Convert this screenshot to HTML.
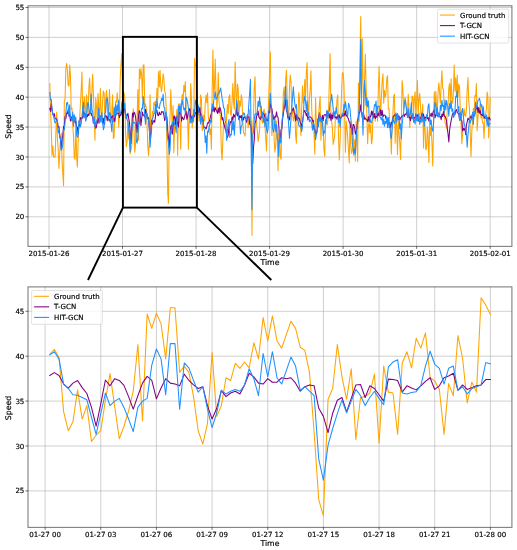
<!DOCTYPE html>
<html><head><meta charset="utf-8"><style>html,body{margin:0;padding:0;background:#fff;}svg{display:block;}#w{width:517px;height:550px;overflow:hidden;}</style></head><body><div id="w">
<svg width="517" height="550" viewBox="0 0 517 550" font-family='"DejaVu Sans", "Liberation Sans", sans-serif' fill="#000"><style>text{stroke:#000;stroke-width:0.16px;}</style>
<rect width="517" height="550" fill="#fff"/>
<defs>
<clipPath id="c1"><rect x="28" y="5.8" width="483.9" height="240.6"/></clipPath>
<clipPath id="c2"><rect x="28" y="286.9" width="483.9" height="240.5"/></clipPath>
</defs>
<g clip-path="url(#c1)">
<line x1="49" y1="5.8" x2="49" y2="246.4" stroke="#b0b0b0" stroke-width="0.6"/>
<line x1="122.53" y1="5.8" x2="122.53" y2="246.4" stroke="#b0b0b0" stroke-width="0.6"/>
<line x1="196.06" y1="5.8" x2="196.06" y2="246.4" stroke="#b0b0b0" stroke-width="0.6"/>
<line x1="269.59" y1="5.8" x2="269.59" y2="246.4" stroke="#b0b0b0" stroke-width="0.6"/>
<line x1="343.12" y1="5.8" x2="343.12" y2="246.4" stroke="#b0b0b0" stroke-width="0.6"/>
<line x1="416.65" y1="5.8" x2="416.65" y2="246.4" stroke="#b0b0b0" stroke-width="0.6"/>
<line x1="490.18" y1="5.8" x2="490.18" y2="246.4" stroke="#b0b0b0" stroke-width="0.6"/>
<line x1="28" y1="216.8" x2="511.9" y2="216.8" stroke="#b0b0b0" stroke-width="0.6"/>
<line x1="28" y1="186.9" x2="511.9" y2="186.9" stroke="#b0b0b0" stroke-width="0.6"/>
<line x1="28" y1="157" x2="511.9" y2="157" stroke="#b0b0b0" stroke-width="0.6"/>
<line x1="28" y1="127.1" x2="511.9" y2="127.1" stroke="#b0b0b0" stroke-width="0.6"/>
<line x1="28" y1="97.2" x2="511.9" y2="97.2" stroke="#b0b0b0" stroke-width="0.6"/>
<line x1="28" y1="67.3" x2="511.9" y2="67.3" stroke="#b0b0b0" stroke-width="0.6"/>
<line x1="28" y1="37.4" x2="511.9" y2="37.4" stroke="#b0b0b0" stroke-width="0.6"/>
<line x1="28" y1="7.5" x2="511.9" y2="7.5" stroke="#b0b0b0" stroke-width="0.6"/>
<path d="M49.77,83.45 L50.53,108.6 L51.3,130.06 L52.06,155.5 L52.83,145.73 L53.6,157.07 L54.36,156.44 L55.13,157 L55.89,132.48 L56.66,112.15 L57.43,138.43 L58.19,149.34 L58.96,168.36 L59.72,153.49 L60.49,137.83 L61.25,133.08 L62.02,160.33 L62.79,172.87 L63.55,185.7 L64.32,101.39 L65.08,98.52 L65.85,68.66 L66.62,63.41 L67.38,69.7 L68.15,85.24 L68.91,86.03 L69.68,64.91 L70.45,75.5 L71.21,109.16 L71.98,108.09 L72.74,125.57 L73.51,136.53 L74.28,157.54 L75.04,159.39 L75.81,121.12 L76.57,155.74 L77.34,167.17 L78.11,143.46 L78.87,121.12 L79.64,119.4 L80.4,104.01 L81.17,90.52 L81.94,72.08 L82.7,115.14 L83.47,117.11 L84.23,96.6 L85,106.73 L85.77,115.14 L86.53,94.81 L87.3,106.4 L88.06,115.14 L88.83,88.41 L89.59,78.06 L90.36,96.14 L91.13,115.14 L91.89,91.3 L92.66,74.18 L93.42,94.66 L94.19,115.14 L94.96,140.26 L95.72,97.8 L96.49,105.57 L97.25,121.12 L98.02,93.61 L98.79,108.39 L99.55,121.12 L100.32,88.23 L101.08,109.98 L101.85,121.12 L102.62,100.05 L103.38,90.92 L104.15,93.61 L104.91,124.11 L105.68,99.23 L106.45,90.62 L107.21,100.9 L107.98,121.12 L108.74,109.69 L109.51,89.43 L110.28,111.74 L111.04,121.12 L111.81,113.01 L112.57,94.81 L113.34,138.46 L114.1,137.08 L114.87,115.14 L115.64,101.3 L116.4,102.57 L117.17,92.72 L117.93,101.62 L118.7,127.1 L119.47,111.43 L120.23,79.37 L121,63.63 L121.76,53.55 L122.53,86.72 L123.3,96 L124.06,92.72 L124.83,98.1 L125.59,134.28 L126.36,146.83 L127.13,140.85 L127.89,119.62 L128.66,139.06 L129.42,130.09 L130.19,154.01 L130.96,149.82 L131.72,146.83 L132.49,126.5 L133.25,108.8 L134.02,130.69 L134.79,152.22 L135.55,143.84 L136.32,133.68 L137.08,120.52 L137.85,89.43 L138.61,140.26 L139.38,69.09 L140.15,78.66 L140.91,68.5 L141.68,75.67 L142.44,98.99 L143.21,64.91 L143.98,64.91 L144.74,107.96 L145.51,103.78 L146.27,107.96 L147.04,124.11 L147.81,146.83 L148.57,155.8 L149.34,142.05 L150.1,94.81 L150.87,137.27 L151.64,130.09 L152.4,111.55 L153.17,113.35 L153.93,101.98 L154.7,105.27 L155.47,101.09 L156.23,104.97 L157,88.23 L157.76,98.99 L158.53,71.49 L159.3,87.03 L160.06,70.29 L160.83,87.03 L161.59,91.82 L162.36,82.85 L163.12,73.88 L163.89,78.66 L164.66,91.22 L165.42,93.31 L166.19,107.96 L166.95,148.03 L167.72,192.88 L168.49,203.29 L169.25,125.9 L170.02,118.73 L170.78,89.43 L171.55,110.95 L172.32,125.9 L173.08,105.57 L173.85,152.81 L174.61,124.71 L175.38,124.11 L176.15,121.72 L176.91,109.16 L177.68,155.21 L178.44,103.78 L179.21,121.12 L179.98,121.72 L180.74,149.23 L181.51,101.69 L182.27,94.21 L183.04,104.97 L183.81,85.24 L184.57,91.82 L185.34,81.65 L186.1,111.55 L186.87,113.65 L187.63,119.33 L188.4,149.23 L189.17,115.44 L189.93,123.51 L190.7,83.45 L191.46,98.4 L192.23,128.3 L193,114.54 L193.76,121.12 L194.53,58.33 L195.29,63.11 L196.06,69.39 L196.83,99.21 L197.59,115.14 L198.36,108.32 L199.12,121.12 L199.89,114.46 L200.66,94.88 L201.42,98.99 L202.19,130.69 L202.95,125.37 L203.72,115.14 L204.49,120.87 L205.25,103.07 L206.02,95.02 L206.78,102.71 L207.55,92.72 L208.31,116.79 L209.08,121.12 L209.85,134.49 L210.61,128.76 L211.38,149.23 L212.14,93.42 L212.91,49.96 L213.68,97.2 L214.44,87.2 L215.21,58.93 L215.97,90.11 L216.74,109.16 L217.51,100.46 L218.27,72.68 L219.04,101.45 L219.8,109.16 L220.57,119 L221.34,150.76 L222.1,159.99 L222.87,139.14 L223.63,121.12 L224.4,125.37 L225.17,127.1 L225.93,128.52 L226.7,115.14 L227.46,104.51 L228.23,113.8 L229,96.45 L229.76,94.81 L230.53,114.15 L231.29,115.14 L232.06,101.19 L232.82,83.45 L233.59,103.17 L234.36,109.16 L235.12,61.92 L235.89,91.05 L236.65,109.16 L237.42,84.04 L238.19,88.33 L238.95,115.14 L239.72,101.11 L240.48,106.27 L241.25,94.81 L242.02,98.76 L242.78,121.12 L243.55,133.02 L244.31,133.62 L245.08,136.07 L245.85,120.62 L246.61,118.72 L247.38,115.14 L248.14,127.69 L248.91,121.12 L249.68,109.42 L250.44,127.98 L251.21,121.12 L251.97,235.34 L252.74,127.1 L253.51,116.14 L254.27,87.09 L255.04,76.87 L255.8,115.14 L256.57,124.61 L257.34,130.78 L258.1,141.49 L258.87,136.67 L259.63,129.43 L260.4,102.58 L261.16,109.87 L261.93,121.12 L262.7,123.28 L263.46,110.72 L264.23,109.16 L264.99,126.18 L265.76,138.19 L266.53,151.02 L267.29,122.1 L268.06,115.14 L268.82,94.5 L269.59,71.3 L270.36,52.05 L271.12,109.16 L271.89,135.47 L272.65,116.54 L273.42,115.14 L274.19,141.26 L274.95,152.22 L275.72,144.94 L276.48,121.12 L277.25,136.17 L278.02,170.75 L278.78,133.08 L279.55,134.25 L280.31,156.61 L281.08,159.39 L281.85,121.12 L282.61,117.18 L283.38,92.67 L284.14,87.03 L284.91,109.16 L285.67,79.19 L286.44,70.29 L287.21,97.2 L287.97,116.42 L288.74,121.12 L289.5,87.33 L290.27,75.07 L291.04,82.98 L291.8,109.16 L292.57,112.66 L293.33,121.12 L294.1,117.02 L294.87,109.16 L295.63,135.68 L296.4,143.25 L297.16,115.14 L297.93,120.39 L298.7,92.51 L299.46,97.8 L300.23,122.89 L300.99,135.47 L301.76,105.76 L302.53,85.84 L303.29,103.18 L304.06,97.18 L304.82,79.56 L305.59,97.2 L306.36,72.11 L307.12,62.52 L307.89,103.18 L308.65,115.14 L309.42,98.08 L310.18,90.58 L310.95,70.89 L311.72,109.16 L312.48,122.9 L313.25,121.12 L314.01,132.29 L314.78,154.01 L315.55,97.8 L316.31,122.76 L317.08,127.1 L317.84,127.62 L318.61,115.14 L319.38,104.45 L320.14,96.6 L320.91,140.26 L321.67,122.26 L322.44,121.12 L323.21,130.15 L323.97,149.9 L324.74,156.4 L325.5,125.79 L326.27,115.14 L327.04,125.21 L327.8,121.12 L328.57,110.16 L329.33,81.59 L330.1,53.55 L330.87,109.16 L331.63,121.12 L332.4,128.8 L333.16,144.39 L333.93,140.26 L334.69,135.44 L335.46,115.14 L336.23,111.5 L336.99,99.86 L337.76,94.81 L338.52,136.21 L339.29,159.99 L340.06,140.86 L340.82,115.14 L341.59,91.82 L342.35,72.9 L343.12,72.68 L343.89,82.42 L344.65,115.14 L345.42,152.22 L346.18,121.12 L346.95,127.83 L347.72,137.48 L348.48,150.5 L349.25,162.98 L350.01,121.12 L350.78,145.87 L351.55,153.41 L352.31,151.38 L353.08,127.1 L353.84,149.89 L354.61,139.81 L355.38,160.89 L356.14,121.12 L356.91,136.64 L357.67,161.78 L358.44,82.85 L359.2,121.12 L359.97,57.73 L360.74,16.47 L361.5,97.2 L362.27,38.6 L363.03,85.33 L363.8,109.16 L364.57,78.39 L365.33,54.14 L366.1,85.07 L366.86,115.14 L367.63,143.84 L368.4,126.97 L369.16,121.12 L369.93,133.03 L370.69,124.32 L371.46,143.84 L372.23,139.65 L372.99,115.14 L373.76,116.03 L374.52,113.46 L375.29,121.12 L376.06,105.57 L376.82,109.16 L377.59,121.12 L378.35,88.09 L379.12,66.4 L379.88,97.2 L380.65,115.14 L381.42,96.51 L382.18,80.62 L382.95,73.88 L383.71,103.18 L384.48,90.26 L385.25,97.2 L386.01,93.57 L386.78,78.42 L387.54,75.67 L388.31,109.16 L389.08,108.54 L389.84,127.1 L390.61,131.68 L391.37,154.01 L392.14,121.12 L392.91,114.13 L393.67,96.23 L394.44,94.21 L395.2,143.25 L395.97,115.14 L396.74,126.18 L397.5,154.61 L398.27,121.12 L399.03,132.14 L399.8,143.65 L400.57,159.39 L401.33,122.74 L402.1,80.46 L402.86,88.83 L403.63,109.16 L404.39,101.2 L405.16,97.2 L405.93,103.57 L406.69,115.14 L407.46,114.72 L408.22,94.21 L408.99,107.62 L409.76,127.7 L410.52,109.62 L411.29,115.14 L412.05,96 L412.82,96.49 L413.59,115.14 L414.35,98.02 L415.12,91.82 L415.88,115.14 L416.65,100.47 L417.42,80.46 L418.18,115.14 L418.95,98.75 L419.71,93.61 L420.48,105.43 L421.25,121.12 L422.01,114.17 L422.78,104.38 L423.54,148.03 L424.31,121.12 L425.08,127.38 L425.84,149.82 L426.61,148.42 L427.37,127.1 L428.14,138.76 L428.91,162.38 L429.67,121.12 L430.44,135.36 L431.2,127.1 L431.97,144.11 L432.73,165.97 L433.5,129.35 L434.27,91.82 L435.03,115.14 L435.8,91.22 L436.56,106.64 L437.33,109.16 L438.1,91.26 L438.86,82.85 L439.63,93.08 L440.39,103.18 L441.16,84.3 L441.93,70.89 L442.69,88.83 L443.46,88.94 L444.22,109.16 L444.99,122.48 L445.76,124.11 L446.52,128.32 L447.29,109.16 L448.05,105.35 L448.82,87.76 L449.59,83.45 L450.35,103.18 L451.12,78.66 L451.88,98.04 L452.65,103.18 L453.42,91.95 L454.18,64.91 L454.95,91.22 L455.71,78.06 L456.48,97.2 L457.24,75.07 L458.01,97.2 L458.78,84.04 L459.54,86.9 L460.31,109.16 L461.07,122.68 L461.84,143.84 L462.61,133.87 L463.37,121.12 L464.14,108.76 L464.9,115.14 L465.67,116.29 L466.44,109.16 L467.2,89.34 L467.97,77.47 L468.73,100.52 L469.5,109.16 L470.27,134.43 L471.03,156.4 L471.8,131.44 L472.56,121.12 L473.33,108.22 L474.1,115.14 L474.86,95.48 L475.63,96.78 L476.39,83.45 L477.16,130.69 L477.93,117.94 L478.69,109.16 L479.46,110.56 L480.22,103.18 L480.99,117.86 L481.75,115.14 L482.52,123 L483.29,122.62 L484.05,138.46 L484.82,120.35 L485.58,113.88 L486.35,109.16 L487.12,92.12 L487.88,96.6 L488.65,137.86 L489.41,123.17 L490.18,97.8" fill="none" stroke="#ffa500" stroke-width="1.059" stroke-linejoin="round" stroke-linecap="square"/>
<path d="M49.77,108.39 L50.53,111.41 L51.3,103.66 L52.06,109.81 L52.83,113.73 L53.6,116.16 L54.36,113.74 L55.13,118.77 L55.89,118.97 L56.66,118.69 L57.43,121.54 L58.19,127.2 L58.96,126.64 L59.72,136.28 L60.49,138.05 L61.25,149.15 L62.02,141.49 L62.79,134.73 L63.55,126.89 L64.32,125.34 L65.08,116.4 L65.85,118.77 L66.62,113.03 L67.38,113.61 L68.15,109.58 L68.91,116.17 L69.68,113.8 L70.45,121.07 L71.21,116.75 L71.98,120.1 L72.74,115.39 L73.51,120.61 L74.28,116.09 L75.04,122.74 L75.81,121 L76.57,126.74 L77.34,127.09 L78.11,134.4 L78.87,126.71 L79.64,125.07 L80.4,117.65 L81.17,119.11 L81.94,117.52 L82.7,118.18 L83.47,111.57 L84.23,113.03 L85,113.84 L85.77,119.92 L86.53,114.64 L87.3,116.79 L88.06,114.24 L88.83,115.49 L89.59,112.24 L90.36,113.49 L91.13,113.21 L91.89,115.74 L92.66,116.52 L93.42,123.02 L94.19,119.31 L94.96,124.21 L95.72,128.16 L96.49,126.87 L97.25,119.6 L98.02,123.12 L98.79,117.68 L99.55,119.66 L100.32,115.82 L101.08,116.86 L101.85,117.67 L102.62,123.48 L103.38,118.29 L104.15,124.37 L104.91,116.7 L105.68,115.95 L106.45,115.95 L107.21,120.59 L107.98,116.46 L108.74,119.99 L109.51,119.55 L110.28,122.17 L111.04,118.23 L111.81,116.88 L112.57,115.7 L113.34,120.1 L114.1,117.94 L114.87,121.75 L115.64,114.36 L116.4,114.79 L117.17,113.42 L117.93,112.85 L118.7,113.4 L119.47,117.75 L120.23,114.3 L121,115.27 L121.76,109.62 L122.53,114.52 L123.3,110.06 L124.06,108.14 L124.83,110.06 L125.59,115.74 L126.36,118.43 L127.13,115.14 L127.89,113.35 L128.66,118.13 L129.42,122.02 L130.19,131.29 L130.96,143.84 L131.72,128.89 L132.49,113.05 L133.25,116.93 L134.02,112.15 L134.79,113.35 L135.55,116.64 L136.32,124.11 L137.08,132.48 L137.85,123.51 L138.61,115.14 L139.38,110.66 L140.15,113.35 L140.91,125.61 L141.68,118.43 L142.44,112.15 L143.21,115.14 L143.98,115.74 L144.74,116.93 L145.51,109.16 L146.27,113.35 L147.04,116.34 L147.81,118.73 L148.57,117.53 L149.34,130.09 L150.1,139.06 L150.87,131.88 L151.64,119.92 L152.4,124.11 L153.17,121.72 L153.93,120.52 L154.7,122.32 L155.47,116.34 L156.23,108.56 L157,110.95 L157.76,115.14 L158.53,115.74 L159.3,112.15 L160.06,114.54 L160.83,114.54 L161.59,111.55 L162.36,112.15 L163.12,111.55 L163.89,115.14 L164.66,120.52 L165.42,117.53 L166.19,116.34 L166.95,116.93 L167.72,131.88 L168.49,137.27 L169.25,148.03 L170.02,135.17 L170.78,126.5 L171.55,124.71 L172.32,134.28 L173.08,125.31 L173.85,116.34 L174.61,116.04 L175.38,124.71 L176.15,116.93 L176.91,118.73 L177.68,122.91 L178.44,127.1 L179.21,112.45 L179.98,112.75 L180.74,113.35 L181.51,121.12 L182.27,116.93 L183.04,118.43 L183.81,119.62 L184.57,116.93 L185.34,113.94 L186.1,111.55 L186.87,119.33 L187.63,116.93 L188.4,111.55 L189.17,110.36 L189.93,108.56 L190.7,119.92 L191.46,116.34 L192.23,119.33 L193,118.13 L193.76,116.93 L194.53,116.34 L195.29,112.75 L196.06,112.75 L196.83,111.16 L197.59,112.41 L198.36,106.16 L199.12,112.48 L199.89,107.59 L200.66,116.25 L201.42,114.25 L202.19,118.35 L202.95,119.63 L203.72,127.06 L204.49,127.13 L205.25,127.57 L206.02,128.98 L206.78,126.73 L207.55,122.77 L208.31,123.09 L209.08,121.56 L209.85,119.61 L210.61,115.73 L211.38,113.4 L212.14,108.17 L212.91,111.19 L213.68,106.13 L214.44,111.88 L215.21,107.8 L215.97,109.87 L216.74,111.34 L217.51,113.43 L218.27,108 L219.04,113.03 L219.8,107.24 L220.57,109.56 L221.34,113.37 L222.1,119.86 L222.87,117.64 L223.63,122.99 L224.4,125.55 L225.17,128.91 L225.93,130.33 L226.7,135.62 L227.46,137.34 L228.23,135.07 L229,125.94 L229.76,125.33 L230.53,121.49 L231.29,122.67 L232.06,116.78 L232.82,120.44 L233.59,114.12 L234.36,117.06 L235.12,114.9 L235.89,114.68 L236.65,107.3 L237.42,115.98 L238.19,112.56 L238.95,119.68 L239.72,115.76 L240.48,117.58 L241.25,115.38 L242.02,120.99 L242.78,117.21 L243.55,119.92 L244.31,116.88 L245.08,117.4 L245.85,118.25 L246.61,122.29 L247.38,116.91 L248.14,116.5 L248.91,117.28 L249.68,124.27 L250.44,124.73 L251.21,127.88 L251.97,144.96 L252.74,163.63 L253.51,147.38 L254.27,139.8 L255.04,122.92 L255.8,121.32 L256.57,116.36 L257.34,114.5 L258.1,110.98 L258.87,117.19 L259.63,118.05 L260.4,119.35 L261.16,116.07 L261.93,117.54 L262.7,113.45 L263.46,113.7 L264.23,114.56 L264.99,117.36 L265.76,117.42 L266.53,120.33 L267.29,120.55 L268.06,119.51 L268.82,111.07 L269.59,112.62 L270.36,103.47 L271.12,106.72 L271.89,108.6 L272.65,114 L273.42,118.62 L274.19,119.36 L274.95,116.18 L275.72,117.31 L276.48,111.7 L277.25,116.48 L278.02,117.38 L278.78,125.75 L279.55,137.86 L280.31,138.12 L281.08,129.19 L281.85,128.81 L282.61,118.69 L283.38,113.58 L284.14,108.08 L284.91,106.02 L285.67,98.95 L286.44,109.71 L287.21,113.29 L287.97,118.29 L288.74,117 L289.5,119.85 L290.27,113.3 L291.04,113.46 L291.8,111.67 L292.57,109.56 L293.33,107.84 L294.1,112.91 L294.87,113.47 L295.63,121.07 L296.4,114.55 L297.16,120.03 L297.93,117.02 L298.7,118.4 L299.46,118.51 L300.23,122.45 L300.99,123.69 L301.76,128.91 L302.53,121.89 L303.29,116.22 L304.06,110.76 L304.82,110.55 L305.59,112.86 L306.36,115.91 L307.12,112.86 L307.89,119.97 L308.65,117.18 L309.42,116.73 L310.18,116.82 L310.95,117.74 L311.72,117.99 L312.48,121.02 L313.25,120.17 L314.01,129.04 L314.78,129.35 L315.55,133.42 L316.31,133.68 L317.08,130.03 L317.84,119.08 L318.61,118.59 L319.38,113.54 L320.14,117.47 L320.91,118.53 L321.67,120.09 L322.44,115.26 L323.21,120.68 L323.97,115.2 L324.74,114.64 L325.5,114.77 L326.27,116.21 L327.04,111.13 L327.8,114.46 L328.57,113.6 L329.33,118.05 L330.1,113.09 L330.87,120.36 L331.63,114.73 L332.4,118.98 L333.16,112.46 L333.93,115.84 L334.69,116.8 L335.46,117.78 L336.23,116.73 L336.99,119.28 L337.76,115.01 L338.52,118.28 L339.29,114.8 L340.06,118.74 L340.82,118.18 L341.59,116.92 L342.35,115.4 L343.12,116.2 L343.89,113.47 L344.65,115.38 L345.42,110.83 L346.18,116.17 L346.95,115.34 L347.72,117.47 L348.48,119.01 L349.25,122.01 L350.01,122.58 L350.78,128.01 L351.55,126.76 L352.31,134.59 L353.08,124.49 L353.84,124.57 L354.61,127.86 L355.38,134.03 L356.14,131.75 L356.91,127.87 L357.67,119.55 L358.44,117.67 L359.2,112.21 L359.97,112.16 L360.74,104.81 L361.5,111.73 L362.27,117.53 L363.03,119.65 L363.8,114.59 L364.57,119.16 L365.33,118.06 L366.1,119.75 L366.86,119.81 L367.63,121.4 L368.4,116.49 L369.16,121.55 L369.93,116.15 L370.69,116.92 L371.46,111.05 L372.23,115.23 L372.99,111.1 L373.76,117.99 L374.52,113.44 L375.29,118.52 L376.06,116.34 L376.82,117.12 L377.59,113.36 L378.35,115.66 L379.12,111.72 L379.88,115.85 L380.65,109.73 L381.42,115.5 L382.18,110.38 L382.95,117.08 L383.71,114.96 L384.48,115.14 L385.25,115.55 L386.01,119.02 L386.78,119.07 L387.54,119.18 L388.31,118.91 L389.08,123.71 L389.84,122.83 L390.61,127.62 L391.37,123.02 L392.14,121.77 L392.91,118.42 L393.67,116.1 L394.44,115 L395.2,114.77 L395.97,114.52 L396.74,119.21 L397.5,113.67 L398.27,119.88 L399.03,115.96 L399.8,119.98 L400.57,117.83 L401.33,117.23 L402.1,116.09 L402.86,115.91 L403.63,113.87 L404.39,116.41 L405.16,114.08 L405.93,114.66 L406.69,112.37 L407.46,113.32 L408.22,112.19 L408.99,117.64 L409.76,117.27 L410.52,120.79 L411.29,115.88 L412.05,117.96 L412.82,115.06 L413.59,121.33 L414.35,117.5 L415.12,117.47 L415.88,114.12 L416.65,120.08 L417.42,114.75 L418.18,121.39 L418.95,118.65 L419.71,118.12 L420.48,118.28 L421.25,116.44 L422.01,113.24 L422.78,118.48 L423.54,114.14 L424.31,119.47 L425.08,117.02 L425.84,118.01 L426.61,116.59 L427.37,118.81 L428.14,117.61 L428.91,121.19 L429.67,115.66 L430.44,115.83 L431.2,113.16 L431.97,116.83 L432.73,113.4 L433.5,110.91 L434.27,110.18 L435.03,117.96 L435.8,114.68 L436.56,114.97 L437.33,115.95 L438.1,116.12 L438.86,112.83 L439.63,116.87 L440.39,116.39 L441.16,119.75 L441.93,114.05 L442.69,116.47 L443.46,111.15 L444.22,116.19 L444.99,116.18 L445.76,118.23 L446.52,120.4 L447.29,128.11 L448.05,133.95 L448.82,141.98 L449.59,130.42 L450.35,124.71 L451.12,120.91 L451.88,116.85 L452.65,113.58 L453.42,114.82 L454.18,111.94 L454.95,114.69 L455.71,110.26 L456.48,109.52 L457.24,112.72 L458.01,113.15 L458.78,113.85 L459.54,119.08 L460.31,116.65 L461.07,119.95 L461.84,120.91 L462.61,131.04 L463.37,128.4 L464.14,130.07 L464.9,128.28 L465.67,134.77 L466.44,124.52 L467.2,121.8 L467.97,118.1 L468.73,119.82 L469.5,118.4 L470.27,117.96 L471.03,115.9 L471.8,118.54 L472.56,113.67 L473.33,118.02 L474.1,114.15 L474.86,113.99 L475.63,108.32 L476.39,109 L477.16,105.93 L477.93,112.41 L478.69,107.64 L479.46,113.28 L480.22,110.59 L480.99,114.9 L481.75,114.56 L482.52,115.76 L483.29,112.91 L484.05,118.38 L484.82,116.47 L485.58,118.1 L486.35,116.56 L487.12,120.79 L487.88,117.26 L488.65,119.16 L489.41,117.4 L490.18,119.8" fill="none" stroke="#800080" stroke-width="1.059" stroke-linejoin="round" stroke-linecap="square"/>
<path d="M49.77,92.56 L50.53,100.01 L51.3,99.27 L52.06,109.96 L52.83,113.69 L53.6,116.38 L54.36,120.38 L55.13,123.11 L55.89,121.66 L56.66,119.74 L57.43,120.56 L58.19,132.71 L58.96,130.23 L59.72,138.11 L60.49,137.24 L61.25,150.15 L62.02,149.01 L62.79,144.15 L63.55,129.75 L64.32,129.91 L65.08,121.99 L65.85,113.62 L66.62,102.9 L67.38,102.38 L68.15,105.93 L68.91,115.58 L69.68,104.73 L70.45,117.87 L71.21,118.74 L71.98,121.02 L72.74,112.12 L73.51,126.26 L74.28,114.75 L75.04,120.09 L75.81,117.09 L76.57,134.76 L77.34,137.15 L78.11,136.03 L78.87,121.04 L79.64,120.48 L80.4,126.87 L81.17,123.74 L81.94,117.06 L82.7,108.31 L83.47,102.26 L84.23,117.71 L85,114.32 L85.77,121.18 L86.53,114.53 L87.3,105 L88.06,102.29 L88.83,107.2 L89.59,113.31 L90.36,113.34 L91.13,93.95 L91.89,109.08 L92.66,112.05 L93.42,123.61 L94.19,117 L94.96,127.54 L95.72,122.08 L96.49,121.95 L97.25,119.97 L98.02,116.74 L98.79,108.12 L99.55,123.06 L100.32,115.95 L101.08,122.33 L101.85,112.5 L102.62,122.04 L103.38,129.81 L104.15,127.01 L104.91,113.2 L105.68,111.96 L106.45,100.16 L107.21,97.56 L107.98,104.12 L108.74,119.84 L109.51,112.62 L110.28,113.66 L111.04,123.87 L111.81,131.7 L112.57,119.49 L113.34,121.74 L114.1,107.12 L114.87,117.52 L115.64,104.28 L116.4,114.66 L117.17,105.01 L117.93,111.48 L118.7,100.22 L119.47,114.72 L120.23,112.72 L121,111.65 L121.76,103.18 L122.53,100.43 L123.3,91.34 L124.06,108.69 L124.83,103.3 L125.59,117.82 L126.36,114.24 L127.13,120.04 L127.89,120.99 L128.66,129.08 L129.42,136.32 L130.19,151.78 L130.96,133.36 L131.72,131.83 L132.49,123.13 L133.25,122.21 L134.02,123.25 L134.79,122.35 L135.55,124.27 L136.32,140.79 L137.08,143.1 L137.85,136.69 L138.61,122.35 L139.38,124.11 L140.15,112.73 L140.91,114.35 L141.68,108.11 L142.44,108.87 L143.21,96.29 L143.98,105.02 L144.74,115.64 L145.51,124.42 L146.27,112.96 L147.04,113.1 L147.81,117.47 L148.57,120.61 L149.34,126.53 L150.1,147.19 L150.87,134.78 L151.64,123.51 L152.4,119.13 L153.17,116.75 L153.93,113.78 L154.7,113.21 L155.47,104.26 L156.23,112.49 L157,98.77 L157.76,107.27 L158.53,107.43 L159.3,108.68 L160.06,103.53 L160.83,102.36 L161.59,98.31 L162.36,100.53 L163.12,93.99 L163.89,107.02 L164.66,107.93 L165.42,119.28 L166.19,112 L166.95,128.72 L167.72,138.22 L168.49,142.87 L169.25,154.42 L170.02,150.1 L170.78,129.5 L171.55,133.18 L172.32,122 L173.08,122.62 L173.85,119.7 L174.61,124.2 L175.38,126.26 L176.15,132.69 L176.91,116.08 L177.68,121.44 L178.44,106.06 L179.21,112.07 L179.98,103.8 L180.74,113.52 L181.51,104.57 L182.27,100.64 L183.04,104.84 L183.81,109.74 L184.57,108.05 L185.34,113.45 L186.1,97.17 L186.87,98.87 L187.63,102.78 L188.4,108.5 L189.17,115.1 L189.93,116.65 L190.7,122.73 L191.46,122.08 L192.23,116.02 L193,122.46 L193.76,109.58 L194.53,114.77 L195.29,100.19 L196.06,104.09 L196.83,95.86 L197.59,103.25 L198.36,106.56 L199.12,114.49 L199.89,115.43 L200.66,124.18 L201.42,114.07 L202.19,121.67 L202.95,119.28 L203.72,128.27 L204.49,130.05 L205.25,142.44 L206.02,135.82 L206.78,153.21 L207.55,131.06 L208.31,132.31 L209.08,126.72 L209.85,124.43 L210.61,120.17 L211.38,122.22 L212.14,103.7 L212.91,109.44 L213.68,101.18 L214.44,96.81 L215.21,91.79 L215.97,99.23 L216.74,98.41 L217.51,96.49 L218.27,93.18 L219.04,93.31 L219.8,91.01 L220.57,87.95 L221.34,92.79 L222.1,98.38 L222.87,102.29 L223.63,108.12 L224.4,108.53 L225.17,120.56 L225.93,123.75 L226.7,140.48 L227.46,130.63 L228.23,122.98 L229,119.63 L229.76,137.41 L230.53,134.41 L231.29,134.98 L232.06,120.15 L232.82,130.1 L233.59,121.2 L234.36,135.24 L235.12,121.13 L235.89,112.69 L236.65,100.11 L237.42,104.84 L238.19,114.14 L238.95,119.56 L239.72,120 L240.48,133.7 L241.25,126.24 L242.02,125.38 L242.78,115.6 L243.55,112.91 L244.31,113.17 L245.08,116.78 L245.85,117.22 L246.61,119.96 L247.38,114.59 L248.14,115.1 L248.91,102.96 L249.68,92.93 L250.44,79.3 L251.21,149.46 L251.97,209.37 L252.74,134.87 L253.51,132 L254.27,119.72 L255.04,113.79 L255.8,114.16 L256.57,114.69 L257.34,111.25 L258.1,101.19 L258.87,106.45 L259.63,96.97 L260.4,107.08 L261.16,106.32 L261.93,117.94 L262.7,111.82 L263.46,122.21 L264.23,117.98 L264.99,126.9 L265.76,113.17 L266.53,129.23 L267.29,132.77 L268.06,128.98 L268.82,112.94 L269.59,104.29 L270.36,93.3 L271.12,106.9 L271.89,113.43 L272.65,128.55 L273.42,132.01 L274.19,128.43 L274.95,118.51 L275.72,131.72 L276.48,124.34 L277.25,138.51 L278.02,141 L278.78,156.7 L279.55,131.06 L280.31,142.94 L281.08,141.16 L281.85,125.24 L282.61,115.4 L283.38,110.76 L284.14,101.47 L284.91,99.38 L285.67,86.12 L286.44,110.15 L287.21,100.32 L287.97,114.19 L288.74,126.75 L289.5,138.53 L290.27,127.98 L291.04,118.37 L291.8,106.99 L292.57,96.53 L293.33,86.74 L294.1,97.4 L294.87,104.46 L295.63,108.12 L296.4,104.64 L297.16,118.69 L297.93,118.37 L298.7,125.11 L299.46,126.3 L300.23,126.83 L300.99,126.9 L301.76,131.57 L302.53,123.72 L303.29,116.57 L304.06,101.26 L304.82,96.13 L305.59,101.6 L306.36,111.49 L307.12,100.83 L307.89,115.46 L308.65,112.37 L309.42,121.8 L310.18,119.68 L310.95,121.02 L311.72,123.1 L312.48,130.25 L313.25,122.72 L314.01,124.72 L314.78,126.69 L315.55,139.79 L316.31,134.93 L317.08,132.26 L317.84,118.84 L318.61,126.76 L319.38,112.51 L320.14,121.66 L320.91,117.41 L321.67,122.1 L322.44,120.55 L323.21,135.45 L323.97,131.15 L324.74,132.99 L325.5,119.69 L326.27,123.67 L327.04,110.16 L327.8,118.29 L328.57,112.5 L329.33,111.01 L330.1,102.14 L330.87,101.06 L331.63,94.25 L332.4,101.04 L333.16,108.08 L333.93,118.32 L334.69,111.44 L335.46,113.84 L336.23,107.36 L336.99,113.41 L337.76,114.64 L338.52,122.78 L339.29,118.26 L340.06,127.1 L340.82,118.19 L341.59,116.05 L342.35,113.25 L343.12,114.98 L343.89,104.34 L344.65,108.9 L345.42,101.68 L346.18,107.3 L346.95,113.43 L347.72,116.45 L348.48,103.27 L349.25,105.53 L350.01,108.66 L350.78,118.2 L351.55,125.12 L352.31,143.49 L353.08,146.92 L353.84,155.11 L354.61,148.71 L355.38,153.68 L356.14,140.48 L356.91,128.19 L357.67,123.7 L358.44,115.28 L359.2,108.3 L359.97,82.14 L360.74,39.52 L361.5,113.01 L362.27,112.06 L363.03,135.08 L363.8,100.29 L364.57,80.5 L365.33,91.63 L366.1,105.72 L366.86,97.44 L367.63,106.89 L368.4,100.79 L369.16,116.37 L369.93,118.26 L370.69,122.33 L371.46,123 L372.23,119.46 L372.99,115.9 L373.76,110.79 L374.52,104.62 L375.29,106.02 L376.06,101.04 L376.82,114.6 L377.59,106.44 L378.35,106.58 L379.12,105.76 L379.88,116.84 L380.65,117.72 L381.42,120.07 L382.18,116.51 L382.95,124.36 L383.71,119.09 L384.48,126.1 L385.25,121.36 L386.01,123.39 L386.78,116.39 L387.54,127.62 L388.31,117.23 L389.08,127.65 L389.84,122.56 L390.61,136.48 L391.37,138.57 L392.14,129.11 L392.91,117.16 L393.67,121.45 L394.44,123.47 L395.2,120.6 L395.97,112.82 L396.74,122.33 L397.5,113.42 L398.27,118.7 L399.03,117.29 L399.8,128.84 L400.57,123.75 L401.33,138.94 L402.1,125.16 L402.86,117.53 L403.63,112.72 L404.39,103.69 L405.16,100.02 L405.93,105.02 L406.69,110.24 L407.46,117.59 L408.22,108.23 L408.99,116.16 L409.76,114.99 L410.52,112.68 L411.29,102.87 L412.05,118.7 L412.82,113.52 L413.59,122.33 L414.35,120.32 L415.12,124.22 L415.88,113.89 L416.65,120.67 L417.42,116.79 L418.18,120.76 L418.95,113.28 L419.71,124.43 L420.48,119.28 L421.25,122.31 L422.01,113.05 L422.78,121.76 L423.54,116.68 L424.31,126.09 L425.08,118.61 L425.84,120.67 L426.61,114.56 L427.37,116.81 L428.14,106.07 L428.91,103.74 L429.67,116.3 L430.44,124.38 L431.2,120.11 L431.97,129.47 L432.73,131.15 L433.5,124.18 L434.27,108.28 L435.03,102.63 L435.8,105.41 L436.56,115.55 L437.33,107.43 L438.1,117.22 L438.86,114.06 L439.63,116.48 L440.39,105.09 L441.16,110.46 L441.93,100.38 L442.69,106.51 L443.46,105.43 L444.22,112.49 L444.99,99.9 L445.76,110.05 L446.52,100.63 L447.29,105.14 L448.05,106.9 L448.82,116.28 L449.59,103.6 L450.35,108.56 L451.12,100.71 L451.88,111.13 L452.65,108.7 L453.42,117.4 L454.18,116.11 L454.95,111.13 L455.71,96.26 L456.48,96.74 L457.24,90.76 L458.01,111.93 L458.78,106.5 L459.54,120.51 L460.31,112.5 L461.07,120.78 L461.84,110.9 L462.61,108.4 L463.37,116.49 L464.14,123.36 L464.9,126.59 L465.67,129.19 L466.44,134.6 L467.2,147.12 L467.97,134.57 L468.73,127.31 L469.5,118.15 L470.27,122.8 L471.03,120.22 L471.8,118.6 L472.56,112.26 L473.33,124.38 L474.1,111.8 L474.86,116.1 L475.63,102.15 L476.39,107.94 L477.16,104.89 L477.93,100.35 L478.69,99.86 L479.46,98.29 L480.22,102.17 L480.99,106.41 L481.75,104.63 L482.52,114.23 L483.29,106.49 L484.05,116.14 L484.82,115.92 L485.58,117.74 L486.35,114.84 L487.12,125.91 L487.88,117.77 L488.65,126.37 L489.41,123.99 L490.18,123.39" fill="none" stroke="#1e90ff" stroke-width="1.059" stroke-linejoin="round" stroke-linecap="square"/>
</g>
<rect x="28" y="5.8" width="483.9" height="240.6" fill="none" stroke="#000" stroke-opacity="0.5" stroke-width="1.1"/>
<line x1="49" y1="246.4" x2="49" y2="248.87" stroke="#000" stroke-width="0.565"/>
<line x1="122.53" y1="246.4" x2="122.53" y2="248.87" stroke="#000" stroke-width="0.565"/>
<line x1="196.06" y1="246.4" x2="196.06" y2="248.87" stroke="#000" stroke-width="0.565"/>
<line x1="269.59" y1="246.4" x2="269.59" y2="248.87" stroke="#000" stroke-width="0.565"/>
<line x1="343.12" y1="246.4" x2="343.12" y2="248.87" stroke="#000" stroke-width="0.565"/>
<line x1="416.65" y1="246.4" x2="416.65" y2="248.87" stroke="#000" stroke-width="0.565"/>
<line x1="490.18" y1="246.4" x2="490.18" y2="248.87" stroke="#000" stroke-width="0.565"/>
<line x1="25.53" y1="216.8" x2="28" y2="216.8" stroke="#000" stroke-width="0.565"/>
<line x1="25.53" y1="186.9" x2="28" y2="186.9" stroke="#000" stroke-width="0.565"/>
<line x1="25.53" y1="157" x2="28" y2="157" stroke="#000" stroke-width="0.565"/>
<line x1="25.53" y1="127.1" x2="28" y2="127.1" stroke="#000" stroke-width="0.565"/>
<line x1="25.53" y1="97.2" x2="28" y2="97.2" stroke="#000" stroke-width="0.565"/>
<line x1="25.53" y1="67.3" x2="28" y2="67.3" stroke="#000" stroke-width="0.565"/>
<line x1="25.53" y1="37.4" x2="28" y2="37.4" stroke="#000" stroke-width="0.565"/>
<line x1="25.53" y1="7.5" x2="28" y2="7.5" stroke="#000" stroke-width="0.565"/>
<text x="49" y="256.1" text-anchor="middle" font-size="7.06">2015-01-26</text>
<text x="122.53" y="256.1" text-anchor="middle" font-size="7.06">2015-01-27</text>
<text x="196.06" y="256.1" text-anchor="middle" font-size="7.06">2015-01-28</text>
<text x="269.59" y="256.1" text-anchor="middle" font-size="7.06">2015-01-29</text>
<text x="343.12" y="256.1" text-anchor="middle" font-size="7.06">2015-01-30</text>
<text x="416.65" y="256.1" text-anchor="middle" font-size="7.06">2015-01-31</text>
<text x="490.18" y="256.1" text-anchor="middle" font-size="7.06">2015-02-01</text>
<text x="24.36" y="219.35" text-anchor="end" font-size="7.06">20</text>
<text x="24.36" y="189.45" text-anchor="end" font-size="7.06">25</text>
<text x="24.36" y="159.55" text-anchor="end" font-size="7.06">30</text>
<text x="24.36" y="129.65" text-anchor="end" font-size="7.06">35</text>
<text x="24.36" y="99.75" text-anchor="end" font-size="7.06">40</text>
<text x="24.36" y="69.85" text-anchor="end" font-size="7.06">45</text>
<text x="24.36" y="39.95" text-anchor="end" font-size="7.06">50</text>
<text x="24.36" y="10.05" text-anchor="end" font-size="7.06">55</text>
<text x="269.95" y="265.4" text-anchor="middle" font-size="7.77">Time</text>
<text transform="translate(10.9,126.5) rotate(-90)" x="0" y="0" text-anchor="middle" font-size="7.77">Speed</text>
<rect x="437.45" y="9.2" width="71.25" height="33.8" rx="1.4" fill="#fff" fill-opacity="0.8" stroke="#ccc" stroke-width="0.565"/>
<line x1="439.95" y1="15.05" x2="454.95" y2="15.05" stroke="#ffa500" stroke-width="1.059"/>
<text x="459.95" y="17.6" font-size="7.06">Ground truth</text>
<line x1="439.95" y1="25.6" x2="454.95" y2="25.6" stroke="#800080" stroke-width="1.059"/>
<text x="459.95" y="28.15" font-size="7.06">T-GCN</text>
<line x1="439.95" y1="36.15" x2="454.95" y2="36.15" stroke="#1e90ff" stroke-width="1.059"/>
<text x="459.95" y="38.7" font-size="7.06">HIT-GCN</text>
<g clip-path="url(#c2)">
<line x1="45.1" y1="286.9" x2="45.1" y2="527.4" stroke="#b0b0b0" stroke-width="0.6"/>
<line x1="100.76" y1="286.9" x2="100.76" y2="527.4" stroke="#b0b0b0" stroke-width="0.6"/>
<line x1="156.42" y1="286.9" x2="156.42" y2="527.4" stroke="#b0b0b0" stroke-width="0.6"/>
<line x1="212.09" y1="286.9" x2="212.09" y2="527.4" stroke="#b0b0b0" stroke-width="0.6"/>
<line x1="267.75" y1="286.9" x2="267.75" y2="527.4" stroke="#b0b0b0" stroke-width="0.6"/>
<line x1="323.41" y1="286.9" x2="323.41" y2="527.4" stroke="#b0b0b0" stroke-width="0.6"/>
<line x1="379.07" y1="286.9" x2="379.07" y2="527.4" stroke="#b0b0b0" stroke-width="0.6"/>
<line x1="434.73" y1="286.9" x2="434.73" y2="527.4" stroke="#b0b0b0" stroke-width="0.6"/>
<line x1="490.4" y1="286.9" x2="490.4" y2="527.4" stroke="#b0b0b0" stroke-width="0.6"/>
<line x1="28" y1="490.9" x2="511.9" y2="490.9" stroke="#b0b0b0" stroke-width="0.6"/>
<line x1="28" y1="446" x2="511.9" y2="446" stroke="#b0b0b0" stroke-width="0.6"/>
<line x1="28" y1="401.1" x2="511.9" y2="401.1" stroke="#b0b0b0" stroke-width="0.6"/>
<line x1="28" y1="356.2" x2="511.9" y2="356.2" stroke="#b0b0b0" stroke-width="0.6"/>
<line x1="28" y1="311.3" x2="511.9" y2="311.3" stroke="#b0b0b0" stroke-width="0.6"/>
<path d="M49.74,354.4 L54.38,349.47 L59.02,357.55 L63.65,411.88 L68.29,430.73 L72.93,421.75 L77.57,389.88 L82.21,419.06 L86.85,405.59 L91.48,441.51 L96.12,435.22 L100.76,430.73 L105.4,400.2 L110.04,373.62 L114.68,406.49 L119.32,438.82 L123.95,426.24 L128.59,410.98 L133.23,391.22 L137.87,344.53 L142.51,420.86 L147.15,313.99 L151.79,328.36 L156.42,313.1 L161.06,323.87 L165.7,358.89 L170.34,307.71 L174.98,307.71 L179.62,372.36 L184.25,366.08 L188.89,372.36 L193.53,396.61 L198.17,430.73 L202.81,444.2 L207.45,423.55 L212.09,352.61 L216.72,416.37 L221.36,405.59 L226,377.75 L230.64,380.45 L235.28,363.38 L239.92,368.32 L244.56,362.04 L249.19,367.87 L253.83,342.73 L258.47,358.89 L263.11,317.59 L267.75,340.93 L272.39,315.79 L277.02,340.93 L281.66,348.12 L286.3,334.65 L290.94,321.18 L295.58,328.36 L300.22,347.22 L304.86,350.36 L309.49,372.36 L314.13,432.53 L318.77,499.88 L323.41,515.51 L328.05,399.3 L332.69,388.53 L337.33,344.53 L341.96,376.85 L346.6,399.3 L351.24,368.77 L355.88,439.71 L360.52,397.51 L365.16,396.61 L369.8,393.02 L374.43,374.16 L379.07,443.31 L383.71,366.08 L388.35,392.12 L392.99,393.02 L397.63,434.33 L402.26,362.94 L406.9,351.71 L411.54,367.87 L416.18,338.24 L420.82,348.12 L425.46,332.85 L430.1,377.75 L434.73,380.89 L439.37,389.43 L444.01,434.33 L448.65,383.59 L453.29,395.71 L457.93,335.55 L462.56,358 L467.2,402.9 L471.84,382.24 L476.48,392.12 L481.12,297.83 L485.76,305.01 L490.4,314.44" fill="none" stroke="#ffa500" stroke-width="1.059" stroke-linejoin="round" stroke-linecap="square"/>
<path d="M49.74,375.51 L54.38,372.63 L59.02,375.51 L63.65,384.04 L68.29,388.08 L72.93,383.14 L77.57,380.45 L82.21,387.63 L86.85,393.47 L91.48,407.39 L96.12,426.24 L100.76,403.79 L105.4,380 L110.04,385.83 L114.68,378.65 L119.32,380.45 L123.95,385.38 L128.59,396.61 L133.23,409.18 L137.87,395.71 L142.51,383.14 L147.15,376.41 L151.79,380.45 L156.42,398.86 L161.06,388.08 L165.7,378.65 L170.34,383.14 L174.98,384.04 L179.62,385.83 L184.25,374.16 L188.89,380.45 L193.53,384.94 L198.17,388.53 L202.81,386.73 L207.45,405.59 L212.09,419.06 L216.72,408.28 L221.36,390.32 L226,396.61 L230.64,393.02 L235.28,391.22 L239.92,393.92 L244.56,384.94 L249.19,373.26 L253.83,376.85 L258.47,383.14 L263.11,384.04 L267.75,378.65 L272.39,382.24 L277.02,382.24 L281.66,377.75 L286.3,378.65 L290.94,377.75 L295.58,383.14 L300.22,391.22 L304.86,386.73 L309.49,384.94 L314.13,385.83 L318.77,408.28 L323.41,416.37 L328.05,432.53 L332.69,413.22 L337.33,400.2 L341.96,397.51 L346.6,411.88 L351.24,398.41 L355.88,384.94 L360.52,384.49 L365.16,397.51 L369.8,385.83 L374.43,388.53 L379.07,394.81 L383.71,401.1 L388.35,379.1 L392.99,379.55 L397.63,380.45 L402.26,392.12 L406.9,385.83 L411.54,388.08 L416.18,389.88 L420.82,385.83 L425.46,381.34 L430.1,377.75 L434.73,389.43 L439.37,385.83 L444.01,377.75 L448.65,375.96 L453.29,373.26 L457.93,390.32 L462.56,384.94 L467.2,389.43 L471.84,387.63 L476.48,385.83 L481.12,384.94 L485.76,379.55 L490.4,379.55" fill="none" stroke="#800080" stroke-width="1.059" stroke-linejoin="round" stroke-linecap="square"/>
<path d="M49.74,354.85 L54.38,351.71 L59.02,358.89 L63.65,384.04 L68.29,388.53 L72.93,394.81 L77.57,395.26 L82.21,397.51 L86.85,399.75 L91.48,417.26 L96.12,434.33 L100.76,413.67 L105.4,393.02 L110.04,405.59 L114.68,401.1 L119.32,398.41 L123.95,407.39 L128.59,419.06 L133.23,431.63 L137.87,407.39 L142.51,401.1 L147.15,398.41 L151.79,365.18 L156.42,349.02 L161.06,358.89 L165.7,394.81 L170.34,343.63 L174.98,343.63 L179.62,409.18 L184.25,362.94 L188.89,367.87 L193.53,380.45 L198.17,392.12 L202.81,386.73 L207.45,409.18 L212.09,427.59 L216.72,412.77 L221.36,390.32 L226,393.92 L230.64,391.22 L235.28,389.43 L239.92,391.22 L244.56,384.94 L249.19,368.77 L253.83,378.65 L258.47,395.71 L263.11,353.51 L267.75,376.85 L272.39,351.71 L277.02,377.75 L281.66,384.04 L286.3,370.57 L290.94,357.1 L295.58,366.08 L300.22,390.32 L304.86,386.73 L309.49,391.22 L314.13,395.71 L318.77,459.47 L323.41,480.12 L328.05,445.1 L332.69,428.49 L337.33,413.67 L341.96,400.2 L346.6,412.77 L351.24,401.1 L355.88,389.43 L360.52,395.71 L365.16,405.59 L369.8,397.51 L374.43,391.22 L379.07,398.41 L383.71,404.69 L388.35,366.98 L392.99,362.04 L397.63,359.79 L402.26,393.02 L406.9,393.92 L411.54,392.57 L416.18,391.67 L420.82,385.38 L425.46,366.08 L430.1,351.26 L434.73,364.28 L439.37,368.32 L444.01,384.04 L448.65,368.32 L453.29,366.08 L457.93,390.32 L462.56,386.73 L467.2,393.92 L471.84,388.53 L476.48,386.73 L481.12,384.94 L485.76,362.49 L490.4,363.83" fill="none" stroke="#1e90ff" stroke-width="1.059" stroke-linejoin="round" stroke-linecap="square"/>
</g>
<rect x="28" y="286.9" width="483.9" height="240.5" fill="none" stroke="#000" stroke-opacity="0.5" stroke-width="1.1"/>
<line x1="45.1" y1="527.4" x2="45.1" y2="529.87" stroke="#000" stroke-width="0.565"/>
<line x1="100.76" y1="527.4" x2="100.76" y2="529.87" stroke="#000" stroke-width="0.565"/>
<line x1="156.42" y1="527.4" x2="156.42" y2="529.87" stroke="#000" stroke-width="0.565"/>
<line x1="212.09" y1="527.4" x2="212.09" y2="529.87" stroke="#000" stroke-width="0.565"/>
<line x1="267.75" y1="527.4" x2="267.75" y2="529.87" stroke="#000" stroke-width="0.565"/>
<line x1="323.41" y1="527.4" x2="323.41" y2="529.87" stroke="#000" stroke-width="0.565"/>
<line x1="379.07" y1="527.4" x2="379.07" y2="529.87" stroke="#000" stroke-width="0.565"/>
<line x1="434.73" y1="527.4" x2="434.73" y2="529.87" stroke="#000" stroke-width="0.565"/>
<line x1="490.4" y1="527.4" x2="490.4" y2="529.87" stroke="#000" stroke-width="0.565"/>
<line x1="25.53" y1="490.9" x2="28" y2="490.9" stroke="#000" stroke-width="0.565"/>
<line x1="25.53" y1="446" x2="28" y2="446" stroke="#000" stroke-width="0.565"/>
<line x1="25.53" y1="401.1" x2="28" y2="401.1" stroke="#000" stroke-width="0.565"/>
<line x1="25.53" y1="356.2" x2="28" y2="356.2" stroke="#000" stroke-width="0.565"/>
<line x1="25.53" y1="311.3" x2="28" y2="311.3" stroke="#000" stroke-width="0.565"/>
<text x="45.1" y="537.3" text-anchor="middle" font-size="7.06">01-27 00</text>
<text x="100.76" y="537.3" text-anchor="middle" font-size="7.06">01-27 03</text>
<text x="156.42" y="537.3" text-anchor="middle" font-size="7.06">01-27 06</text>
<text x="212.09" y="537.3" text-anchor="middle" font-size="7.06">01-27 09</text>
<text x="267.75" y="537.3" text-anchor="middle" font-size="7.06">01-27 12</text>
<text x="323.41" y="537.3" text-anchor="middle" font-size="7.06">01-27 15</text>
<text x="379.07" y="537.3" text-anchor="middle" font-size="7.06">01-27 18</text>
<text x="434.73" y="537.3" text-anchor="middle" font-size="7.06">01-27 21</text>
<text x="490.4" y="537.3" text-anchor="middle" font-size="7.06">01-28 00</text>
<text x="24.36" y="493.45" text-anchor="end" font-size="7.06">25</text>
<text x="24.36" y="448.55" text-anchor="end" font-size="7.06">30</text>
<text x="24.36" y="403.65" text-anchor="end" font-size="7.06">35</text>
<text x="24.36" y="358.75" text-anchor="end" font-size="7.06">40</text>
<text x="24.36" y="313.85" text-anchor="end" font-size="7.06">45</text>
<text x="269.95" y="546.4" text-anchor="middle" font-size="7.77">Time</text>
<text transform="translate(10.9,408) rotate(-90)" x="0" y="0" text-anchor="middle" font-size="7.77">Speed</text>
<rect x="31.6" y="290.45" width="70.8" height="33.9" rx="1.4" fill="#fff" fill-opacity="0.8" stroke="#ccc" stroke-width="0.565"/>
<line x1="34.1" y1="296.3" x2="49.1" y2="296.3" stroke="#ffa500" stroke-width="1.059"/>
<text x="54.1" y="298.85" font-size="7.06">Ground truth</text>
<line x1="34.1" y1="306.85" x2="49.1" y2="306.85" stroke="#800080" stroke-width="1.059"/>
<text x="54.1" y="309.4" font-size="7.06">T-GCN</text>
<line x1="34.1" y1="317.4" x2="49.1" y2="317.4" stroke="#1e90ff" stroke-width="1.059"/>
<text x="54.1" y="319.95" font-size="7.06">HIT-GCN</text>
<rect x="122.9" y="36.85" width="74.00" height="170.75" fill="none" stroke="#000" stroke-width="1.9"/>
<line x1="122.9" y1="207.6" x2="88.0" y2="280.0" stroke="#000" stroke-width="1.9"/>
<line x1="196.9" y1="207.6" x2="271.3" y2="280.0" stroke="#000" stroke-width="1.9"/>
</svg>
</div></body></html>
